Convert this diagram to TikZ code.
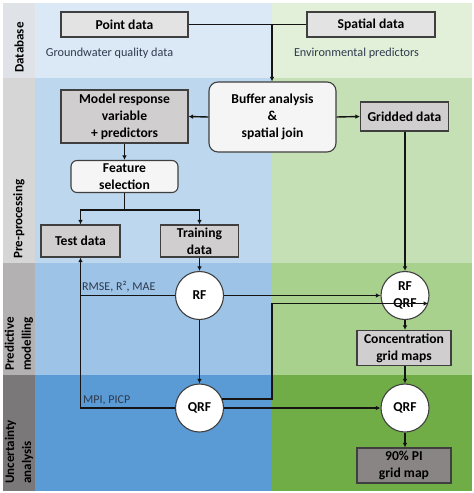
\documentclass[tikz,border=0pt]{standalone}
\usepackage{fontspec}
\setmainfont{Carlito}
\usetikzlibrary{arrows.meta,calc}
\definecolor{labA}{HTML}{DFE3E8}
\definecolor{labB}{HTML}{D6D6D6}
\definecolor{labC}{HTML}{B3B1B1}
\definecolor{labD}{HTML}{7A7878}
\definecolor{bluA}{HTML}{DBE8F5}
\definecolor{bluB}{HTML}{BDD7EE}
\definecolor{bluC}{HTML}{9DC3E6}
\definecolor{bluD}{HTML}{5B9BD5}
\definecolor{grnA}{HTML}{E2F0D9}
\definecolor{grnB}{HTML}{C5E0B4}
\definecolor{grnC}{HTML}{A9D18E}
\definecolor{grnD}{HTML}{70AD47}
\definecolor{boxL}{HTML}{E3E3E3}
\definecolor{boxM}{HTML}{D0CECE}
\definecolor{boxD}{HTML}{8A8585}
\definecolor{edge}{HTML}{3F3F3F}
\definecolor{wire}{HTML}{141414}
\definecolor{txt}{HTML}{2E3A4E}
\definecolor{roundfill}{HTML}{F5F5F5}
\tikzset{
  base/.style={draw=edge, line width=1.1pt, align=center, inner sep=1pt,
    font=\fontsize{13.6}{17}\selectfont\bfseries},
  sqbox/.style={base, rectangle},
  rbox/.style={base, rectangle, rounded corners=9pt, fill=roundfill},
  circ/.style={base, circle, fill=white, minimum size=48pt},
  arr/.style={draw=wire, line width=1.4pt, -{Latex[length=4.5pt,width=4.5pt]}},
  ln/.style={draw=wire, line width=1.4pt},
  captxt/.style={font=\fontsize{12.2}{14}\selectfont, text=txt},
  small/.style={font=\fontsize{12}{13}\selectfont, text=txt, inner sep=1pt},
  side/.style={rotate=90, anchor=west, align=left, inner sep=0pt,
    font=\fontsize{13}{17}\selectfont\bfseries}
}
\begin{document}
\begin{tikzpicture}[x=1pt,y=-1pt]
\useasboundingbox (0,0) rectangle (474,493);
\fill[white] (0,0) rectangle (474,493);
% bands
\fill[labA] (3,3) rectangle (35,78);
\fill[bluA] (35,3) rectangle (272,78);
\fill[grnA] (272,3) rectangle (472,78);
\fill[labB] (3,78) rectangle (35,263);
\fill[bluB] (35,78) rectangle (272,263);
\fill[grnB] (272,78) rectangle (472,263);
\fill[labC] (3,263) rectangle (35,375);
\fill[bluC] (35,263) rectangle (272,375);
\fill[grnC] (272,263) rectangle (472,375);
\fill[labD] (3,375) rectangle (35,491);
\fill[bluD] (35,375) rectangle (272,491);
\fill[grnD] (272,375) rectangle (472,491);
% side labels
\node[side] (l1) at (19,73) {Database};
\node[side] (l2) at (19,259) {Pre-processing};
\node[side] (l3) at (19,371) {Predictive\\modelling};
\node[side] (l4) at (19,484) {Uncertainty\\analysis};
% nodes
\node[sqbox, fill=boxL, minimum width=127pt, minimum height=25pt] (pd) at (124.5,24.5) {Point data};
\node[sqbox, fill=boxL, minimum width=128pt, minimum height=25pt] (sd) at (371,24.5) {Spatial data};
\node[captxt] (c1) at (109.5,53) {Groundwater quality data};
\node[captxt] (c2) at (356.5,53) {Environmental predictors};
\node[rbox, minimum width=127pt, minimum height=70pt] (buf) at (272.5,117) {Buffer analysis\\\&\\spatial join};
\node[sqbox, fill=boxM, minimum width=127pt, minimum height=53pt] (mr) at (124.5,116.5) {Model response\\variable\\+ predictors};
\node[sqbox, fill=boxM, minimum width=88pt, minimum height=29pt] (gd) at (404.5,116.5) {Gridded data};
\node[rbox, minimum width=107pt, minimum height=32pt, rounded corners=6pt] (fs) at (124.5,176.5) {Feature\\selection};
\node[sqbox, fill=boxM, minimum width=79pt, minimum height=32pt] (test) at (80.5,241) {Test data};
\node[sqbox, fill=boxM, minimum width=78pt, minimum height=32pt] (train) at (199.5,241) {Training\\data};
\node[circ] (rf) at (199.5,295.5) {RF};
\node[circ] (rfq) at (405,295.5) {RF\\QRF};
\node[sqbox, fill=boxM, minimum width=94pt, minimum height=35pt] (conc) at (404,348) {Concentration\\grid maps};
\node[circ] (qrfl) at (199.5,408) {QRF};
\node[circ] (qrfr) at (405,408) {QRF};
\node[sqbox, fill=boxD, minimum width=94pt, minimum height=35pt] (pi) at (404,465.5) {90\% PI\\grid map};
% connectors
\coordinate (v) at (272,0);
\draw[ln] (pd.east) -- (sd.west);
\draw[arr] (v |- pd.east) -- (v |- buf.north);
\draw[arr] (buf.west) -- (mr.east);
\draw[arr] (buf.east) -- (gd.west);
\draw[arr] (mr.south) -- (fs.north);
\draw[ln] (fs.south) -- ++(0,17) coordinate (split);
\draw[arr] (split) -| (test.north);
\draw[arr] (split) -| (train.north);
\draw[arr] (train.south) -- (rf.north);
\draw[arr] (gd.south -| rfq.north) -- (rfq.north);
\draw[arr] (rf.east) -- (rfq.west);
\draw[arr] (qrfl.22) -| (v |- rfq.-19) -- (rfq.-19);
\draw[arr] (qrfl.east) -- (qrfr.west);
\draw[arr] (rf.south) -- (qrfl.north);
\draw[arr] (rf.west) -| (test.south);
\draw[ln] (qrfl.west) -| (rf.west -| test.south);
\draw[arr] (rfq.south) -- (conc.north -| rfq.south);
\draw[arr] (conc.south -| qrfr.north) -- (qrfr.north);
\draw[arr] (qrfr.south) -- (pi.north -| qrfr.south);
% metric labels
\node[small, anchor=south west] (m1) at (81,293) {RMSE, R², MAE};
\node[small, anchor=south west] (m2) at (82,406) {MPI, PICP};
\end{tikzpicture}
\end{document}
